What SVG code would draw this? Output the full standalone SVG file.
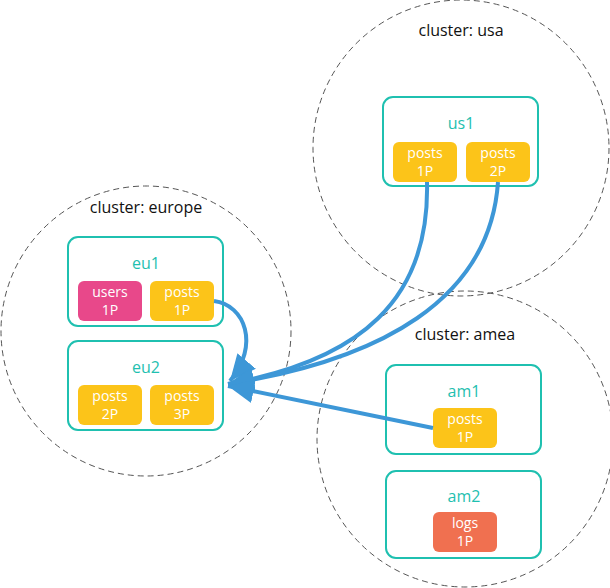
<svg xmlns="http://www.w3.org/2000/svg" width="610" height="588" viewBox="0 0 610 588">
<style>
.cl{fill:none;stroke:#555;stroke-width:1;stroke-dasharray:6,4}
.ct{font-family:"Open Sans",sans-serif;font-size:16px;fill:#111;text-anchor:middle}
.nd{fill:#fff;stroke:#1fc0b0;stroke-width:2}
.nt{font-family:"Open Sans",sans-serif;font-size:16px;fill:#1fc0b0;text-anchor:middle}
.p{stroke:none}
.pt{font-family:"Open Sans",sans-serif;font-size:14px;fill:#fff;text-anchor:middle}
.e{fill:none;stroke:#3d97d7;stroke-width:4}
</style>
<defs>
<marker id="a" markerUnits="userSpaceOnUse" markerWidth="28" markerHeight="28" refX="26" refY="12" orient="auto" viewBox="0 0 28 24">
<path d="M0,0 L26,12 L0,24 z" fill="#3d97d7"/>
</marker>
</defs>
<g id="clusters">
<circle class="cl" cx="461" cy="148" r="148"/><text class="ct" x="461" y="36">cluster: usa</text>
<circle class="cl" cx="146" cy="331" r="145"/><text class="ct" x="146" y="213">cluster: europe</text>
<circle class="cl" cx="465" cy="439" r="148"/><text class="ct" x="465" y="340">cluster: amea</text>
</g>
<g id="us1"><rect class="nd" x="383" y="97" width="155" height="89" rx="10"/><text class="nt" x="461" y="129">us1</text>
<rect class="p" fill="#fcc419" x="393" y="142" width="64" height="40" rx="6"/><text class="pt" x="425" y="158">posts</text><text class="pt" x="425" y="176">1P</text>
<rect class="p" fill="#fcc419" x="466" y="142" width="64" height="40" rx="6"/><text class="pt" x="498" y="158">posts</text><text class="pt" x="498" y="176">2P</text></g>
<g id="eu1"><rect class="nd" x="68" y="237" width="155" height="89" rx="10"/><text class="nt" x="146" y="269">eu1</text>
<rect class="p" fill="#e8488a" x="78" y="281" width="64" height="40" rx="6"/><text class="pt" x="110" y="297">users</text><text class="pt" x="110" y="315">1P</text>
<rect class="p" fill="#fcc419" x="150" y="281" width="64" height="40" rx="6"/><text class="pt" x="182" y="297">posts</text><text class="pt" x="182" y="315">1P</text></g>
<g id="eu2"><rect class="nd" x="68" y="341" width="155" height="89" rx="10"/><text class="nt" x="146" y="373">eu2</text>
<rect class="p" fill="#fcc419" x="78" y="385" width="64" height="40" rx="6"/><text class="pt" x="110" y="401">posts</text><text class="pt" x="110" y="419">2P</text>
<rect class="p" fill="#fcc419" x="150" y="385" width="64" height="40" rx="6"/><text class="pt" x="182" y="401">posts</text><text class="pt" x="182" y="419">3P</text></g>
<g id="am1"><rect class="nd" x="386" y="365" width="155" height="89" rx="10"/><text class="nt" x="464" y="397">am1</text>
<rect class="p" fill="#fcc419" x="433" y="408" width="64" height="40" rx="6"/><text class="pt" x="465" y="424">posts</text><text class="pt" x="465" y="442">1P</text></g>
<g id="am2"><rect class="nd" x="386" y="471" width="155" height="87" rx="10"/><text class="nt" x="464" y="502">am2</text>
<rect class="p" fill="#f07050" x="433" y="512" width="64" height="40" rx="6"/><text class="pt" x="465" y="528">logs</text><text class="pt" x="465" y="546">1P</text></g>
<g id="connectors">
<path class="e" d="M214,301 C245,305 260,345 230,381" marker-end="url(#a)"/>
<path class="e" d="M427,182 C430,300 360,360 228,384" marker-end="url(#a)"/>
<path class="e" d="M498,182 C490,300 380,360 228,384" marker-end="url(#a)"/>
<path class="e" d="M433,428 L228,386" marker-end="url(#a)"/>
</g>
</svg>
